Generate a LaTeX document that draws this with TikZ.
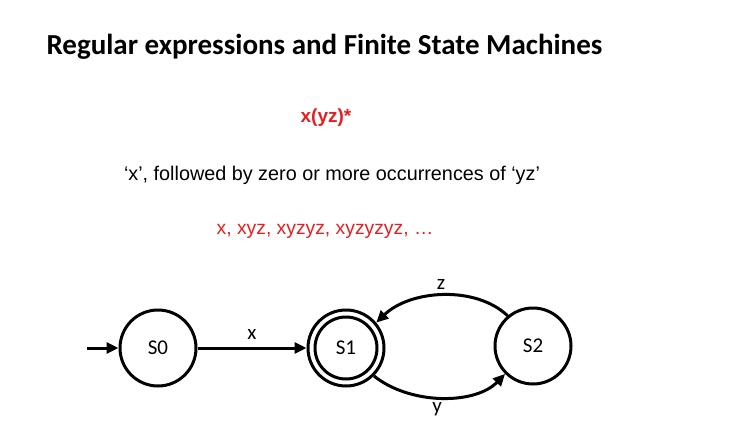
\documentclass[tikz,border=0pt]{standalone}
\usepackage{fontspec}
\setmainfont{Liberation Sans}
\newfontfamily\carl{Carlito}
\usetikzlibrary{arrows.meta}
\definecolor{rd}{RGB}{230,30,30}
\begin{document}
\begin{tikzpicture}[x=1pt,y=-1pt,
  st/.style={circle,draw,line width=3pt,minimum size=76pt,inner sep=0pt,font=\carl\fontsize{21}{24}\selectfont},
  ar/.style={line width=3pt,-{Triangle[length=12pt,width=11pt]}},
  lb/.style={font=\carl\fontsize{21}{24}\selectfont}]
\useasboundingbox (0,0) rectangle (738,425);
\node[anchor=west,font=\carl\bfseries\fontsize{29}{34}\selectfont] (t) at (43,47) {Regular expressions and Finite State Machines};
\node[text=rd,font=\bfseries\fontsize{19}{22}\selectfont] (r) at (326,118) {x(yz)*};
\node[font=\fontsize{19.8}{23}\selectfont] (d) at (332,175) {‘x’, followed by zero or more occurrences of ‘yz’};
\node[text=rd,font=\fontsize{19.3}{22}\selectfont] (e) at (325,231) {x, xyz, xyzyz, xyzyzyz, …};
\node[st] (s0) at (158,348) {S0};
\node[st] (s1) at (346,348) {S1};
\node[circle,draw,line width=3pt,minimum size=62pt] (s1i) at (346,348) {};
\node[st] (s2) at (533,346) {S2};
\coordinate (in) at (87,348);
\draw[ar] (in) -- (s0);
\draw[ar] (s0) -- (s1) node[midway,above=4pt,lb]{x};
\draw[ar] (s2.130) .. controls (475,285) and (410,290) .. (s1.40) ;
\node[lb] (z) at (441,284) {z};
\draw[ar] (s1.-45) .. controls (410,405) and (475,405) .. (s2.-135);
\node[lb] (y) at (437,409) {y};
\end{tikzpicture}
\end{document}
